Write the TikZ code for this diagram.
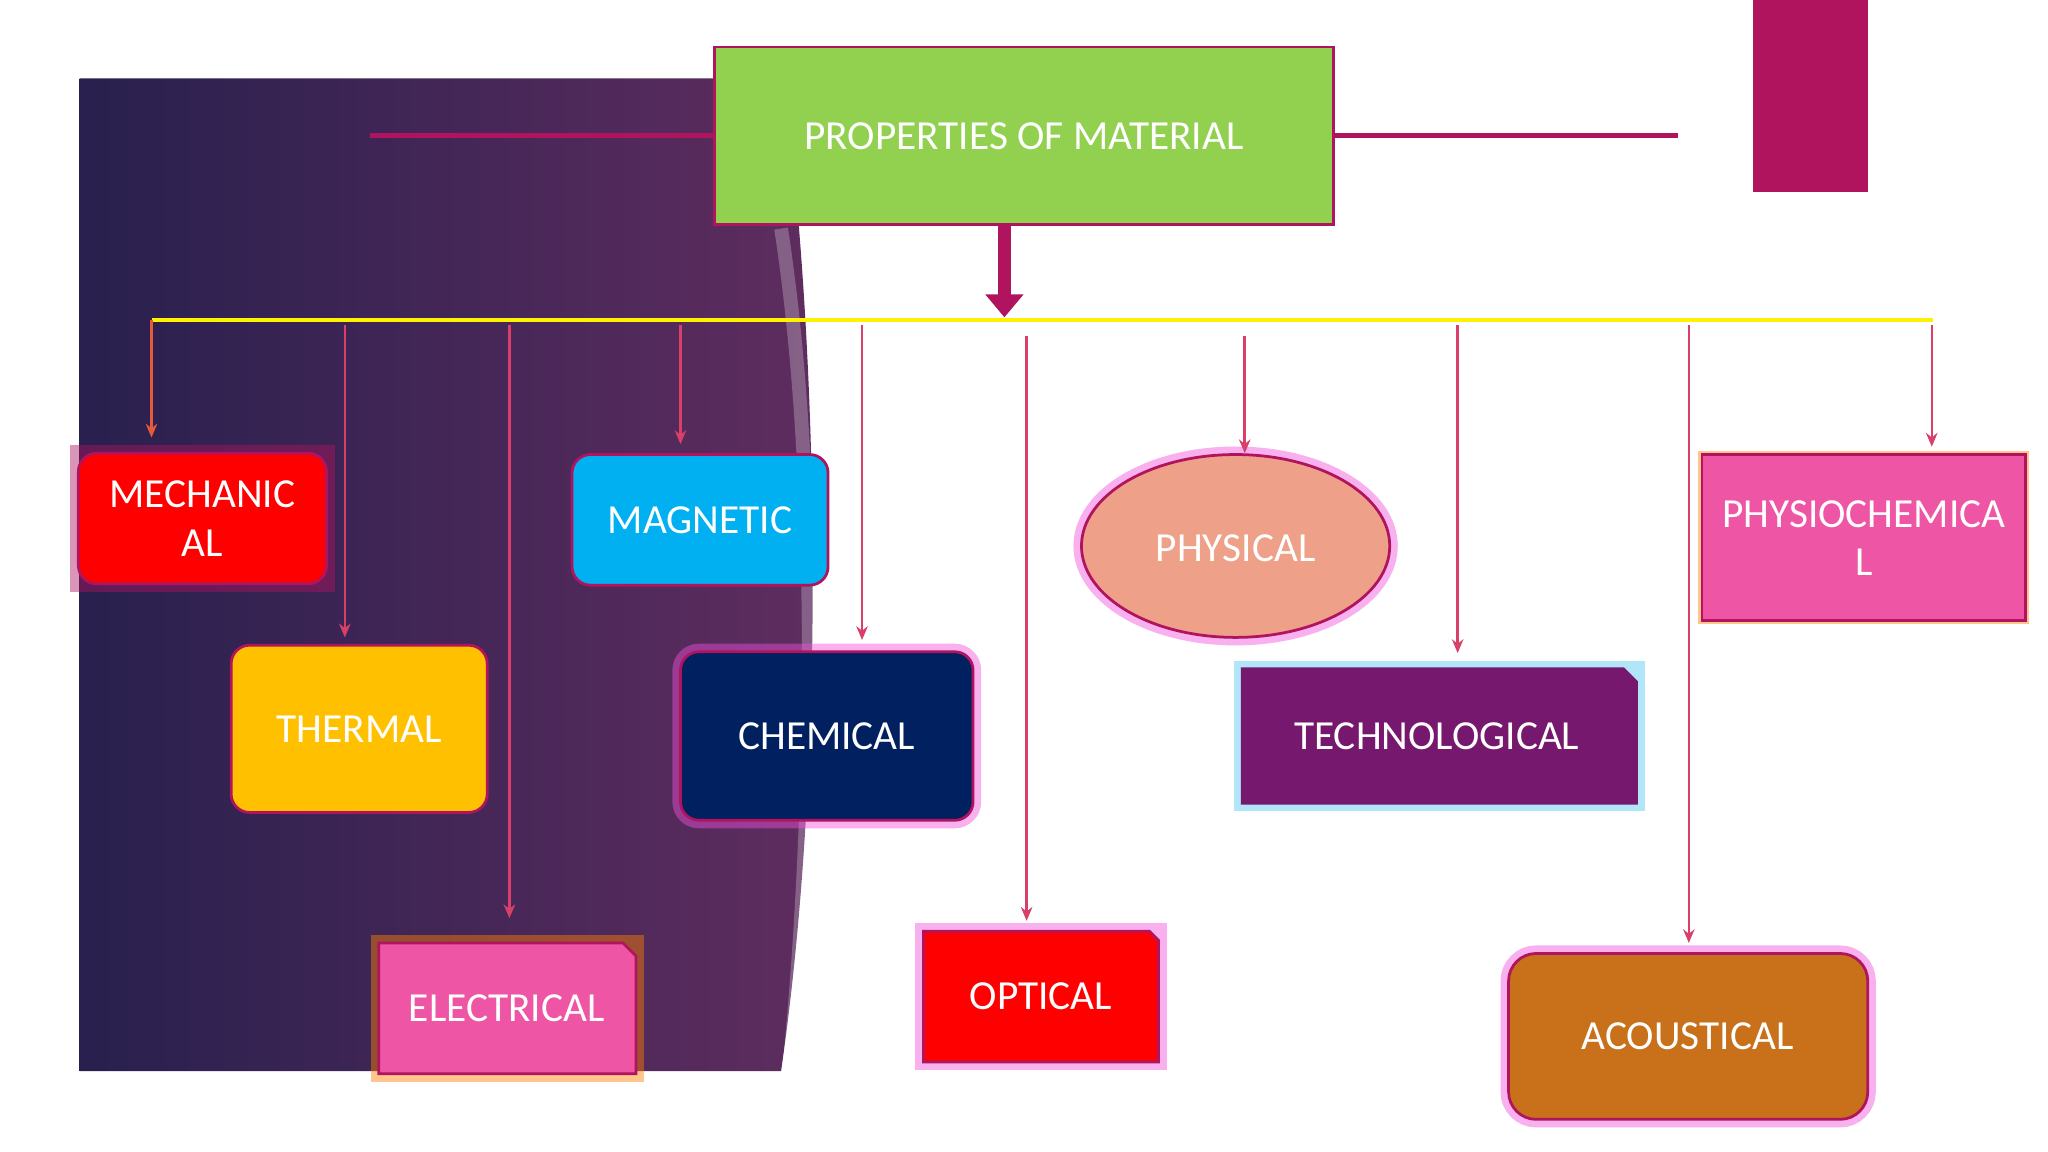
\documentclass[tikz,border=0pt]{standalone}
\usepackage{fontspec}
\setmainfont{Carlito}
\usetikzlibrary{arrows.meta}
\definecolor{mag}{HTML}{B0145F}
\definecolor{arr}{HTML}{D8406A}
\begin{document}
\begin{tikzpicture}[x=0.02cm,y=-0.02cm,
  lbl/.style={text=white,font=\fontsize{18}{21}\selectfont,align=center},
  box/.style={draw=mag,line width=1.2pt},
  rbox/.style={box,rounded corners=8pt},
  glow/.style={line width=7pt,draw opacity=0.45},
  ar/.style={draw=arr,line width=1.1pt,-{Stealth[length=6pt,width=5pt]}}]
\useasboundingbox (0,0) rectangle (1568,882);
\fill[white] (0,0) rectangle (1568,882);
% background panel
\shade[left color={rgb,255:red,40;green,32;blue,78},right color={rgb,255:red,95;green,45;blue,95}]
  (61,60) -- (600,60) .. controls (630,300) and (630,600) .. (598,820) -- (61,820) -- cycle;
\draw[white,opacity=0.25,line width=6pt] (598,175) .. controls (625,350) and (625,600) .. (605,810);
\fill[mag] (1342,0) rectangle (1430,147);
% title
\node[box,fill={rgb,255:red,146;green,208;blue,80},minimum width=474\pgflinewidth,inner sep=0] (t) at (784,104) {};
\draw[box,fill={rgb,255:red,146;green,208;blue,80}] (547,36) rectangle (1021,172);
\node[lbl] (title) at (784,104) {PROPERTIES OF MATERIAL};
\coordinate (tb) at (769,172);
\coordinate (bus) at (769,243);
\draw[mag,line width=6pt,-{Triangle[length=10pt,width=16pt]}] (tb) -- (bus);
\draw[yellow,line width=2pt] (116,245) -- (1480,245);
% boxes
\draw[glow,draw=mag] (60,347) rectangle (250,447);
\draw[rbox,fill=red] (60,347) rectangle (250,447);
\node[lbl] (mech) at (155,397) {MECHANIC\\AL};
\draw[rbox,fill={rgb,255:red,255;green,192;blue,0}] (177,494) rectangle (373,622);
\node[lbl] (ther) at (275,558) {THERMAL};
\draw[glow,draw=orange] (290,722) rectangle (487,822);
\draw[box,fill={rgb,255:red,238;green,85;blue,165}] (290,822) -- (290,722) -- (477,722) -- (487,732) -- (487,822) -- cycle;
\node[lbl] (elec) at (388,772) {ELECTRICAL};
\draw[rbox,fill={rgb,255:red,0;green,176;blue,240}] (438,348) rectangle (634,448);
\node[lbl] (magn) at (536,398) {MAGNETIC};
\draw[glow,draw={rgb,255:red,240;green,80;blue,220},rounded corners=8pt] (521,499) rectangle (745,628);
\draw[rbox,fill={rgb,255:red,0;green,32;blue,96}] (521,499) rectangle (745,628);
\node[lbl] (chem) at (633,564) {CHEMICAL};
\draw[glow,draw={rgb,255:red,240;green,80;blue,220}] (707,713) rectangle (887,813);
\draw[box,fill=red] (707,813) -- (707,713) -- (880,713) -- (887,720) -- (887,813) -- cycle;
\node[lbl] (opt) at (797,763) {OPTICAL};
\draw[glow,draw={rgb,255:red,240;green,80;blue,220}] (946,418) ellipse (118 and 70);
\draw[box,fill={rgb,255:red,238;green,160;blue,136}] (946,418) ellipse (118 and 70);
\node[lbl] (phys) at (946,420) {PHYSICAL};
\draw[glow,draw={rgb,255:red,80;green,200;blue,240}] (951,512) rectangle (1253,615);
\draw[box,draw={rgb,255:red,118;green,25;blue,110},fill={rgb,255:red,118;green,25;blue,110}] (951,615) -- (951,512) -- (1243,512) -- (1253,522) -- (1253,615) -- cycle;
\node[lbl] (tech) at (1100,564) {TECHNOLOGICAL};
\draw[glow,draw=orange,line width=3pt] (1303,348) rectangle (1551,475);
\draw[box,fill={rgb,255:red,238;green,85;blue,165}] (1303,348) rectangle (1551,475);
\node[lbl] (pchem) at (1427,412) {PHYSIOCHEMICA\\L};
\draw[glow,draw={rgb,255:red,240;green,80;blue,220},rounded corners=12pt] (1155,730) rectangle (1430,857);
\draw[box,rounded corners=12pt,fill={rgb,255:red,200;green,112;blue,26}] (1155,730) rectangle (1430,857);
\node[lbl] (acou) at (1292,793) {ACOUSTICAL};
% connectors
\foreach \x/\ys/\ye in {264/249/488,390/249/703,521/249/340,660/249/490,786/257/705,953/257/347,1116/249/500,1293/249/722,1479/249/342}{
  \coordinate (s\x) at (\x,\ys); \coordinate (e\x) at (\x,\ye);
  \draw[ar] (s\x) -- (e\x);}
\coordinate (s116) at (116,245); \coordinate (e116) at (116,335);
\draw[ar,draw={rgb,255:red,230;green,90;blue,60}] (s116) -- (e116);
\end{tikzpicture}
\end{document}
